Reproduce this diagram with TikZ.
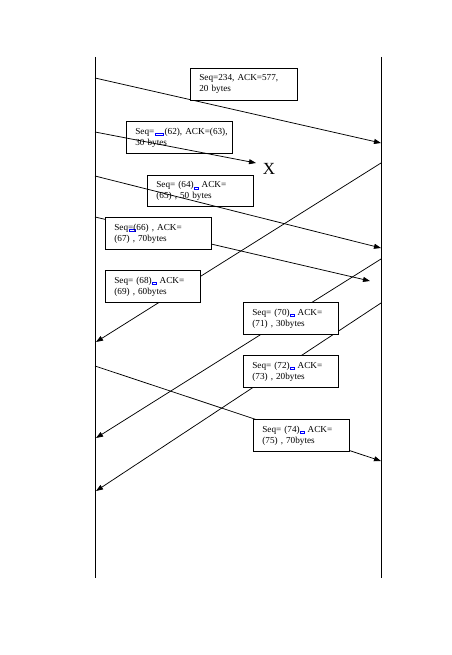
\documentclass[tikz,border=0pt]{standalone}
\usepackage{fontspec}
\setmainfont{Liberation Serif}
\usetikzlibrary{arrows.meta}
\newcommand\anch[1][5pt]{\raisebox{-1.4pt}{\textcolor{blue}{\setlength\fboxsep{0pt}\setlength\fboxrule{0.4pt}\fbox{\rule{0pt}{2pt}\hspace{#1}}}}}
\begin{document}
\begin{tikzpicture}[x=1pt,y=-1pt,
  life/.style={line width=0.8pt},
  msg/.style={line width=0.75pt,-{Triangle[length=7pt,width=5pt]}},
  lbl/.style={draw,line width=0.75pt,fill=white,anchor=north west,align=left,
    inner xsep=9pt,inner ysep=0pt,font=\fontsize{9.2}{11}\selectfont}]
\useasboundingbox (0,0) rectangle (451,655);
% lifelines
\coordinate (Ltop) at (95,57);
\coordinate (Lbot) at (95,578);
\coordinate (Rtop) at (381,57);
\coordinate (Rbot) at (381,578);
\draw[life] (Ltop) -- (Lbot);
\draw[life] (Rtop) -- (Rbot);
% endpoints
\coordinate (a1) at (95,78);   \coordinate (b1) at (381,143);
\coordinate (a2) at (95,132);  \coordinate (b2) at (256,163);
\coordinate (a3) at (95,176);  \coordinate (b3) at (381,248);
\coordinate (a4) at (95,217);  \coordinate (b4) at (370,281);
\coordinate (a5) at (381,163); \coordinate (b5) at (96,342);
\coordinate (a6) at (381,259); \coordinate (b6) at (96,438);
\coordinate (a7) at (381,303); \coordinate (b7) at (96,491);
\coordinate (a8) at (95,366);  \coordinate (b8) at (381,461);
\draw[msg] (a1) -- (b1);
\draw[msg] (a4) -- (b4);
\draw[msg] (a5) -- (b5);
\draw[msg] (a6) -- (b6);
\draw[msg] (a7) -- (b7);
\draw[msg] (a8) -- (b8);
% label boxes
\node[lbl,text width=89pt,minimum height=32pt] (t1) at (190,68) {Seq=234, ACK=577,\\20 bytes};
\node[lbl,text width=88pt,minimum height=32pt] (t2) at (126,121) {\mbox{Seq=\hspace{1pt}\anch[7pt]\hspace{1.5pt}(62), ACK=(63),}\\30 bytes};
\node[lbl,text width=88pt,minimum height=31pt] (t3) at (147,175) {Seq= (64)\anch[4pt] ACK=\\(65) , 50 bytes};
\node[lbl,text width=88pt,minimum height=32pt] (t4) at (105,217) {Seq\rlap{\kern1pt\anch[5pt]}=(66) , ACK=\\(67) , 70bytes};
\node[lbl,text width=77pt,minimum height=32pt] (t5) at (105,270) {Seq= (68)\anch[4pt] ACK=\\(69) , 60bytes};
\node[lbl,text width=77pt,minimum height=32pt] (t6) at (243,302) {Seq= (70)\anch[4pt] ACK=\\(71) , 30bytes};
\node[lbl,text width=77pt,minimum height=32pt] (t7) at (243,355) {Seq= (72)\anch[4pt] ACK=\\(73) , 20bytes};
\node[lbl,text width=78pt,minimum height=32pt] (t8) at (253,419) {Seq= (74)\anch[4pt] ACK=\\(75) , 70bytes};
% lines drawn over boxes
\draw[msg] (a2) -- (b2);
\draw[msg] (a3) -- (b3);
\node[font=\fontsize{17}{17}\selectfont,inner sep=0pt] (lost) at (269,169) {X};
\end{tikzpicture}
\end{document}
